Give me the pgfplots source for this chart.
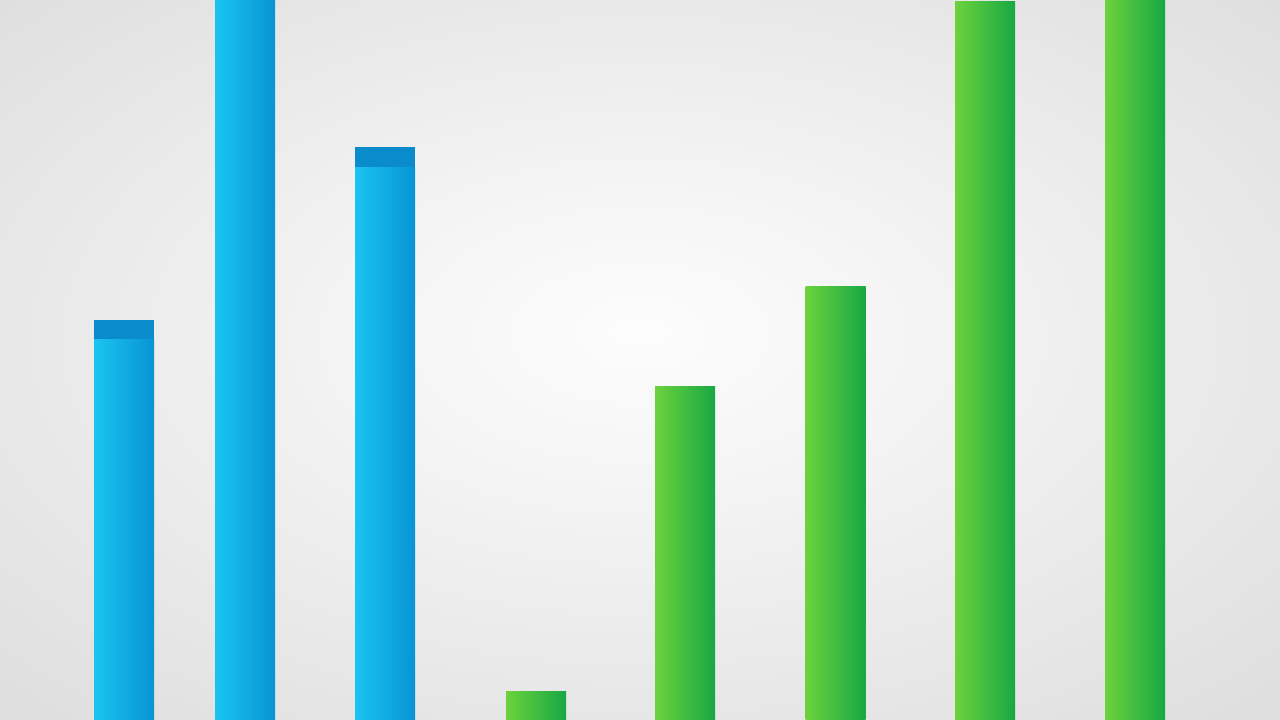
\documentclass[border=0pt]{standalone}
\usepackage{pgfplots}
\pgfplotsset{compat=1.18}
\definecolor{bl}{HTML}{1AC4F0}
\definecolor{br}{HTML}{0894D4}
\definecolor{bcap}{HTML}{0A8CCC}
\definecolor{gl}{HTML}{6CD23C}
\definecolor{gr}{HTML}{17A844}
\pgfdeclareradialshading{bg}{\pgfpoint{0bp}{2bp}}{color(0bp)=(white!99!black); color(10bp)=(white!96!black); color(50bp)=(white!82!black); color(72bp)=(white!78!black)}
\pgfplotsset{
  bluebar/.style={ybar, bar width=60, bar shift=0pt, draw=none, left color=bl, right color=br},
  greenbar/.style={ybar, bar width=60, bar shift=0pt, draw=none, left color=gl, right color=gr},
  capbar/.style={ybar, bar width=60, bar shift=0pt, draw=none, fill=bcap},
}
\begin{document}
\begin{tikzpicture}
\begin{axis}[
  scale only axis, width=12.8cm, height=7.2cm,
  xmin=0, xmax=1280, ymin=0, ymax=720,
  axis lines=none, ticks=none, clip=true,
  axis background/.style={shading=bg},
]
% caps of the blue bars
\addplot[capbar] coordinates {(124,400)};
\addplot[capbar] coordinates {(385,573)};
% blue bars
\addplot[bluebar] coordinates {(124,380)};
\addplot[bluebar] coordinates {(245,760)};
\addplot[bluebar] coordinates {(385,553)};
% green bars
\addplot[greenbar] coordinates {(536,28)};
\addplot[greenbar] coordinates {(685,333)};
\addplot[greenbar] coordinates {(835.5,434)};
\addplot[greenbar] coordinates {(985,719)};
\addplot[greenbar] coordinates {(1135,760)};
\end{axis}
\end{tikzpicture}
\end{document}
